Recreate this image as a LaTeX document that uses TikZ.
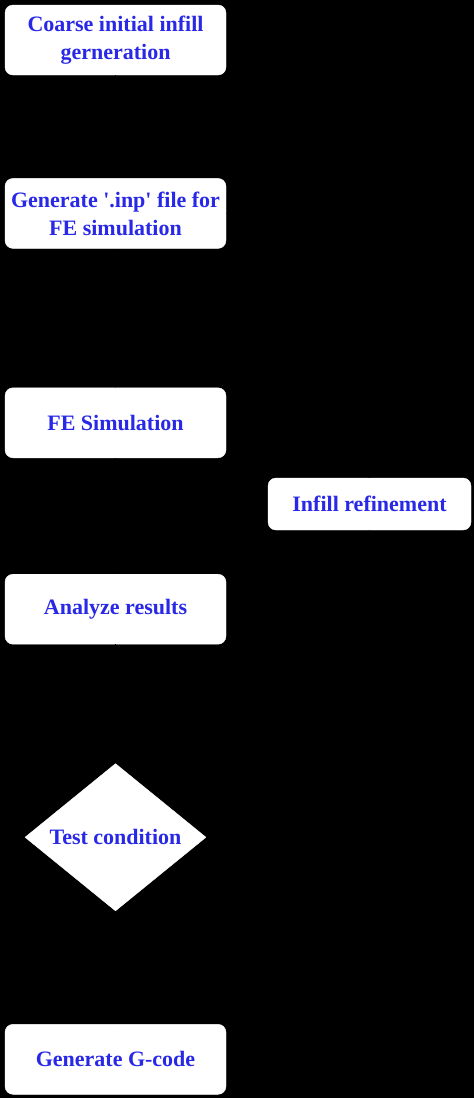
\documentclass[tikz,border=0pt]{standalone}
\usepackage{fontspec}
\setmainfont{Liberation Serif}
\usepackage{color}
\definecolor{myblue}{RGB}{40,40,230}
\usetikzlibrary{shapes.geometric,arrows,positioning}

\begin{document}
\begin{tikzpicture}[
  x=1pt,
  y=1pt,
  mybox/.style={
    draw=white,
    fill=white,
    rounded corners=8pt,
    minimum width=221pt,
    minimum height=70pt,
    align=center,
    inner sep=0pt,
    text=myblue,
    font=\fontsize{22}{28}\selectfont\bfseries
    },
  mydiamond/.style={
    draw=white,
    fill=white,
    diamond,
    minimum width=181pt,
    minimum height=145pt,
    inner sep=0pt,
    text=myblue,
    font=\fontsize{22}{28}\selectfont\bfseries
    },
  myarrow/.style={
    ->,
    >=triangle 45,
    draw=black,
    thick
    }
]

\fill[black] (0,0) rectangle (474,-1098);

\node[mybox]
  (coarse) at (115.5,-40)
  {Coarse initial infill\\ gerneration};
\node[mybox, below=103pt of coarse]
  (inp)
  {Generate \textquotesingle.inp\textquotesingle{} file for\\ FE simulation};
\node[mybox, below=139pt of inp]
  (fesim)
  {FE Simulation};
\node[mybox, below=116pt of fesim]
  (analyze)
  {Analyze results};
\node[mydiamond, below=122pt of analyze, yshift=3pt]
  (test)
  {Test condition};
\node[mybox, below=113pt of test]
  (gcode)
  {Generate G-code};
\node[mybox, minimum width=203pt, minimum height=52pt]
  (refine) at (369.5,-504)
  {Infill refinement};

\draw[myarrow] (coarse) -- (inp);
\draw[myarrow] (inp) -- (fesim);
\draw[myarrow] (fesim) -- (analyze);
\draw[myarrow] (analyze) -- (test);
\draw[myarrow] (test) -- (gcode);
\draw[myarrow] (test.east) -| (refine.south);
\draw[myarrow] (refine.north) |- (inp.east);

\end{tikzpicture}
\end{document}
